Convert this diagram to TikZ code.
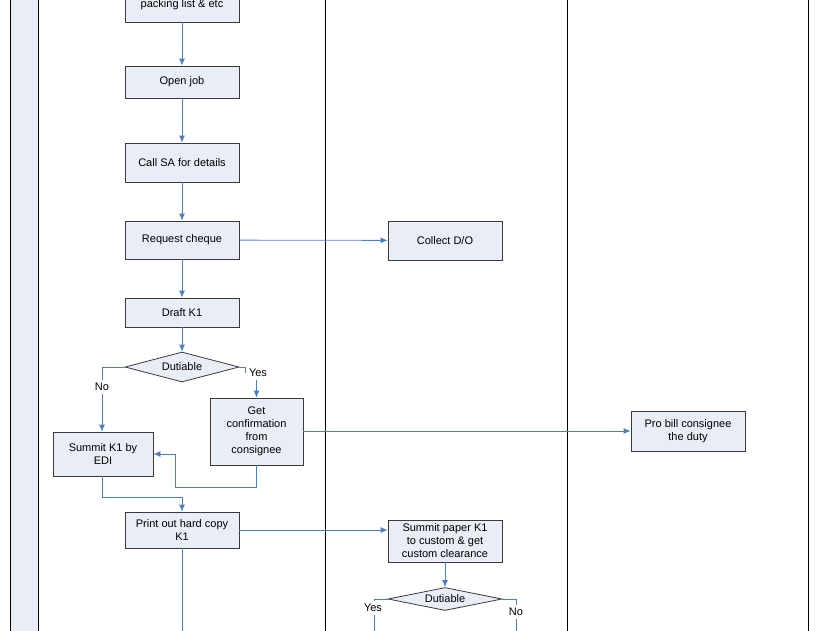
\documentclass[tikz,border=0pt]{standalone}
\usepackage{fontspec}
\setmainfont{Liberation Sans}
\usetikzlibrary{shapes.geometric,arrows.meta}
\definecolor{bfill}{HTML}{E9EDF5}
\definecolor{bline}{HTML}{3A3A3A}
\definecolor{acolor}{HTML}{4F7FBA}
\begin{document}
\begin{tikzpicture}[x=1pt,y=-1pt,
  box/.style={draw=bline, fill=bfill, thick, minimum width=114pt, align=center,
    font=\fontsize{11}{13}\selectfont, inner sep=2pt},
  dec/.style={draw=bline, fill=bfill, thick, diamond, aspect=3.8, inner sep=1pt,
    minimum width=114pt, minimum height=30pt, font=\fontsize{11}{13}\selectfont},
  lbl/.style={font=\fontsize{11}{13}\selectfont},
  arrow/.style={color=acolor, thick, -{Latex[length=7pt,width=6pt]}},
  flow/.style={color=acolor, thick},
  lane/.style={color=black, thick}]

\useasboundingbox (0,0) rectangle (824,630);
\begin{scope}
\clip (0,0) rectangle (824,630);
% swim lanes
\fill[bfill] (10,-5) rectangle (38,640);
\foreach \x in {10,38,325,567,808} {
    \draw[lane] (\x,-5) -- (\x,640);
};

% first lane
\node[box, minimum height=44pt] (pack) at (182,0) {\\[4pt]packing list \& etc};
\node[box, minimum height=32pt] (open) at (182,82) {Open job};
\node[box, minimum height=39pt] (call) at (182,162.5) {Call SA for details};
\node[box, minimum height=38pt] (cheque) at (182,240) {Request cheque};
\node[box, minimum height=29pt] (draft) at (182,312.5) {Draft K1};
\node[dec] (dut) at (182,367) {Dutiable};
\node[box, minimum width=100pt, minimum height=44pt] (edi) at (103,454) {Summit K1 by\\EDI};
\node[box, minimum width=93pt, minimum height=67pt] (conf) at (256.5,431.5) {Get\\confirmation\\from\\consignee};
\node[box, minimum height=36pt] (print) at (182,530) {Print out hard copy\\K1};

% second lane
\node[box, minimum height=39pt] (collect) at (445,240.5) {Collect D/O};
\node[box, minimum height=42pt] (paper) at (445,541) {Summit paper K1\\to custom \& get\\custom clearance};
\node[dec, minimum height=23pt] (dut2) at (445,599) {Dutiable};

% third lane
\node[box, minimum height=40pt] (bill) at (688,431) {Pro bill consignee\\the duty};

% labels
\node[lbl] (no1) at (102,387) {No};
\node[lbl] (yes1) at (258,373) {Yes};
\node[lbl] (yes2) at (373,608) {Yes};
\node[lbl] (no2) at (516,612) {No};

\coordinate (end1) at (182,640);
\coordinate (end2) at (374,640);
\coordinate (end3) at (516,640);

% connectors
\draw[arrow] (pack) -- (open);
\draw[arrow] (open) -- (call);
\draw[arrow] (call) -- (cheque);
\draw[arrow] (cheque) -- (draft);
\draw[arrow] (draft) -- (dut);
\draw[arrow] (cheque) -- (collect);
\draw[flow] (dut.west) -| (no1.north);
\draw[arrow] (no1.south) -- (edi.north -| no1);
\draw[flow] (dut.east) -| (yes1.west);
\draw[arrow] (yes1.south -| conf) -- (conf.north);
\draw[arrow] (conf.south) -- ++(0,22) -| (175,454) -- (edi.east);
\draw[arrow] (conf.east |- bill) -- (bill.west);
\draw[arrow] (edi.south -| no1) -- ++(0,21) -| (print.north);
\draw[arrow] (print.east) -- (print.east -| paper.west);
\draw[arrow] (paper) -- (dut2);
\draw[flow] (dut2.west) -| (yes2.north -| end2);
\draw[arrow] (yes2.south -| end2) -- (end2);
\draw[flow] (dut2.east) -| (no2.north -| end3);
\draw[arrow] (no2.south -| end3) -- (end3);
\draw[arrow] (print) -- (end1);
\end{scope}
\end{tikzpicture}
\end{document}
